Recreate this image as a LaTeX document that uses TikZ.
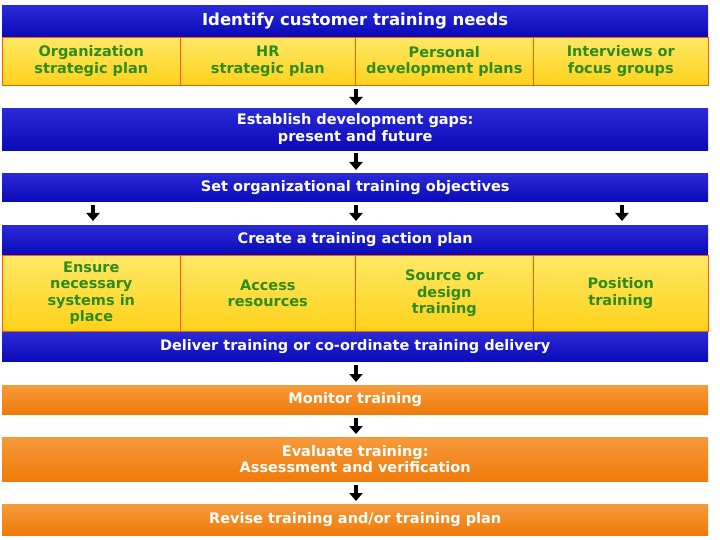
\documentclass[tikz,border=0pt]{standalone}
\usepackage{fontspec}
\setmainfont{DejaVu Sans}
\usetikzlibrary{arrows.meta}
\definecolor{bl}{HTML}{0A0AB8}
\definecolor{blt}{HTML}{2A2AD8}
\definecolor{yl}{HTML}{FFD21A}
\definecolor{ylt}{HTML}{FFE866}
\definecolor{gr}{HTML}{2E8B1E}
\definecolor{or}{HTML}{F07A0A}
\definecolor{ort}{HTML}{F59A3A}
\tikzset{
  bbar/.style={rectangle, top color=blt, bottom color=bl, text=white, font=\bfseries\fontsize{14.5}{16.5}\selectfont, align=center, inner sep=0},
  ybox/.style={rectangle, top color=ylt, bottom color=yl, draw=orange!70!red, line width=0.6pt, text=gr, font=\bfseries\fontsize{14.5}{16.5}\selectfont, align=center, inner sep=0},
  obar/.style={rectangle, top color=ort, bottom color=or, text=white, font=\bfseries\fontsize{14.5}{16.5}\selectfont, align=center, inner sep=0},
  arr/.style={-{Triangle[length=8pt,width=13pt]}, line width=4.5pt, black},
}
\newcommand{\bx}[6]{\node[#1, minimum width=#4, minimum height=#5, anchor=north west] (#2) at (#3) {#6};}
\begin{document}
\begin{tikzpicture}[x=1pt,y=-1pt]
\useasboundingbox[fill=white] (0,0) rectangle (720,540);
\bx{bbar}{t1}{2,5}{706pt}{31pt}{\fontsize{16.5}{18}\selectfont Identify customer training needs}
\bx{ybox}{y1}{2,37}{178pt}{48pt}{Organization\\strategic plan}
\bx{ybox}{y2}{180,37}{175pt}{48pt}{HR\\strategic plan}
\bx{ybox}{y3}{355,37}{178pt}{48pt}{Personal\\development plans}
\bx{ybox}{y4}{533,37}{175pt}{48pt}{Interviews or\\focus groups}
\bx{bbar}{b2}{2,108}{706pt}{42pt}{Establish development gaps:\\present and future}
\bx{bbar}{b3}{2,173}{706pt}{28pt}{Set organizational training objectives}
\bx{bbar}{b4}{2,225}{706pt}{29pt}{Create a training action plan}
\bx{ybox}{z1}{2,255}{178pt}{76pt}{Ensure\\necessary\\systems in\\place}
\bx{ybox}{z2}{180,255}{175pt}{76pt}{Access\\resources}
\bx{ybox}{z3}{355,255}{178pt}{76pt}{Source or\\design\\training}
\bx{ybox}{z4}{533,255}{175pt}{76pt}{Position\\training}
\bx{bbar}{b5}{2,332}{706pt}{29pt}{Deliver training or co-ordinate training delivery}
\bx{obar}{o1}{2,385}{706pt}{29pt}{Monitor training}
\bx{obar}{o2}{2,437}{706pt}{44pt}{Evaluate training:\\Assessment and verification}
\bx{obar}{o3}{2,504}{706pt}{31pt}{Revise training and/or training plan}
\coordinate (c1) at (356,0);
\coordinate (c2) at (93,0);
\coordinate (c3) at (622,0);
\draw[arr] ([yshift=-3]y3.south -| c1) -- ([yshift=3]b2.north -| c1);
\draw[arr] ([yshift=-3]b2.south -| c1) -- ([yshift=3]b3.north -| c1);
\foreach \c in {c1,c2,c3}
  \draw[arr] ([yshift=-4]b3.south -| \c) -- ([yshift=4]b4.north -| \c);
\draw[arr] ([yshift=-4]b5.south -| c1) -- ([yshift=3]o1.north -| c1);
\draw[arr] ([yshift=-4]o1.south -| c1) -- ([yshift=3]o2.north -| c1);
\draw[arr] ([yshift=-4]o2.south -| c1) -- ([yshift=3]o3.north -| c1);
\end{tikzpicture}
\end{document}
